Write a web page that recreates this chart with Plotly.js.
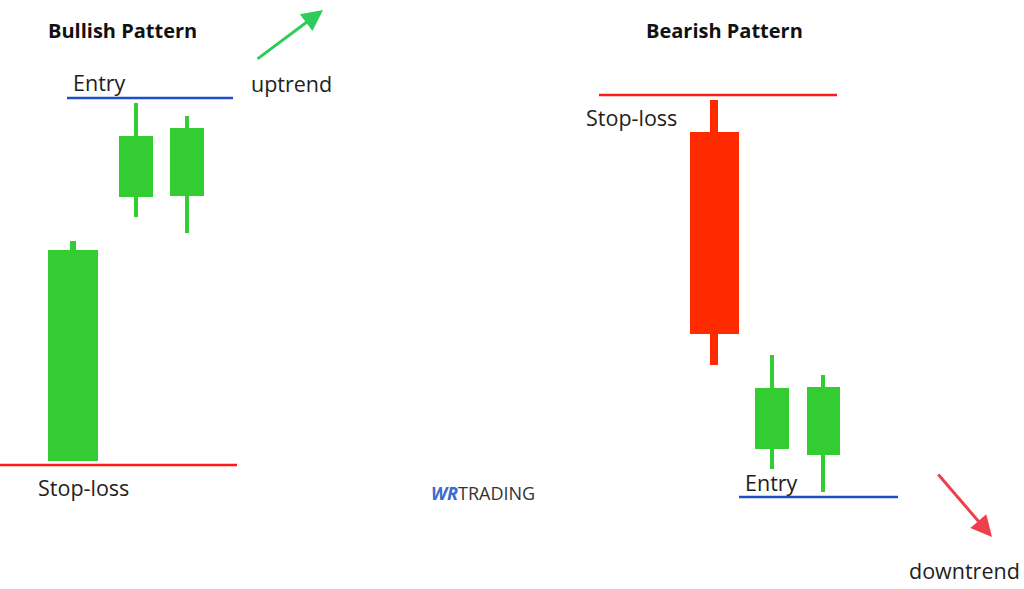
<!DOCTYPE html>
<html>
<head>
<meta charset="utf-8">
<script src="https://cdn.plot.ly/plotly-3.0.1.min.js"></script>
<style>
    html, body { margin: 0; padding: 0; background: #ffffff; }
    #chart { width: 1024px; height: 589px; }
</style>
</head>
<body>
<div id="chart"></div>
<script>
// candles, left three = bullish setup, right three = bearish setup
const candleX = [73, 136, 187, 714, 772, 823];
const candleOpen = [128, 392, 393, 457, 140, 134];
const candleHigh = [348, 486, 473, 489, 234, 214];
const candleLow = [128, 372, 356, 224, 120, 97];
const candleClose = [339, 453, 461, 255, 201, 202];

// horizontal levels
const levelNames = ["Entry", "Stop-loss", "Stop-loss", "Entry"];
const levelPrices = [491, 124, 494, 92];

const UP_COLOR = "#33cc33";
const DOWN_COLOR = "#ff2a00";
const BODY_WIDTHS = [50, 34, 34, 49, 34, 33];
const WICK_WIDTHS = [6, 4.5, 4.5, 8, 4.5, 4.5];
const LEVEL_SPANS = [[67, 233], [0, 237], [599, 837], [739, 898]];
const LEVEL_COLORS = { "Entry": "#1f4fc6", "Stop-loss": "#ff1a1a" };

const candleColors = candleOpen.map((open, i) => candleClose[i] >= open ? UP_COLOR : DOWN_COLOR);

const traces = [];

// wicks first so the bodies sit on top
traces.push({
    type: "bar",
    x: candleX,
    base: candleLow,
    y: candleHigh.map((high, i) => high - candleLow[i]),
    width: WICK_WIDTHS,
    marker: { color: candleColors, line: { width: 0 } },
    hoverinfo: "skip",
    showlegend: false,
});

traces.push({
    type: "bar",
    x: candleX,
    base: candleOpen.map((open, i) => Math.min(open, candleClose[i])),
    y: candleOpen.map((open, i) => Math.abs(candleClose[i] - open)),
    width: BODY_WIDTHS,
    marker: { color: candleColors, line: { width: 0 } },
    hoverinfo: "skip",
    showlegend: false,
});

levelPrices.forEach((price, i) => {
    traces.push({
        type: "scatter",
        mode: "lines",
        x: LEVEL_SPANS[i],
        y: [price, price],
        line: { color: LEVEL_COLORS[levelNames[i]], width: 2.5 },
        hoverinfo: "skip",
        showlegend: false,
    });
});

const textFont = { family: "\"Open Sans\", sans-serif", size: 21.5, color: "#222222" };
const titleFont = { family: "\"Open Sans\", sans-serif", size: 20, color: "#111111" };

// label offsets relative to each level line
const levelLabelPos = [
    { x: 99, dy: 16 },
    { x: 83, dy: -22 },
    { x: 631, dy: -22 },
    { x: 771, dy: 15 },
];

const annotations = levelNames.map((name, i) => ({
    x: levelLabelPos[i].x,
    y: levelPrices[i] + levelLabelPos[i].dy,
    xref: "x",
    yref: "y",
    text: name,
    showarrow: false,
    font: textFont,
}));

annotations.push(
    { x: 122, y: 559, xref: "x", yref: "y", text: "<b>Bullish Pattern</b>", showarrow: false, font: titleFont },
    { x: 724, y: 559, xref: "x", yref: "y", text: "<b>Bearish Pattern</b>", showarrow: false, font: titleFont },
    { x: 291, y: 506, xref: "x", yref: "y", text: "uptrend", showarrow: false, font: textFont },
    { x: 964, y: 19, xref: "x", yref: "y", text: "downtrend", showarrow: false, font: textFont },
    {
        x: 483, y: 96, xref: "x", yref: "y", showarrow: false,
        text: "<b><i><span style=\"color:#3a6ad6\">WR</span></i></b><span style=\"color:#333333\">TRADING</span>",
        font: { family: "\"Open Sans\", sans-serif", size: 18, color: "#333333" },
    },
    {
        x: 323, y: 579, ax: 256, ay: 529,
        xref: "x", yref: "y", axref: "x", ayref: "y",
        showarrow: true, arrowhead: 2, arrowsize: 1.4, arrowwidth: 3, arrowcolor: "#2ecc5a", text: "",
    },
    {
        x: 992, y: 52, ax: 937, ay: 116,
        xref: "x", yref: "y", axref: "x", ayref: "y",
        showarrow: true, arrowhead: 2, arrowsize: 1.4, arrowwidth: 3, arrowcolor: "#ef3f4c", text: "",
    },
);

Plotly.newPlot(
    "chart",
    traces,
    {
        width: 1024,
        height: 589,
        margin: { t: 0, r: 0, b: 0, l: 0 },
        paper_bgcolor: "#ffffff",
        plot_bgcolor: "#ffffff",
        barmode: "overlay",
        bargap: 0,
        xaxis: { range: [0, 1024], visible: false, fixedrange: true },
        yaxis: { range: [0, 589], visible: false, fixedrange: true },
        annotations: annotations,
        showlegend: false,
    },
    { displayModeBar: false, staticPlot: true },
);
</script>
</body>
</html>
